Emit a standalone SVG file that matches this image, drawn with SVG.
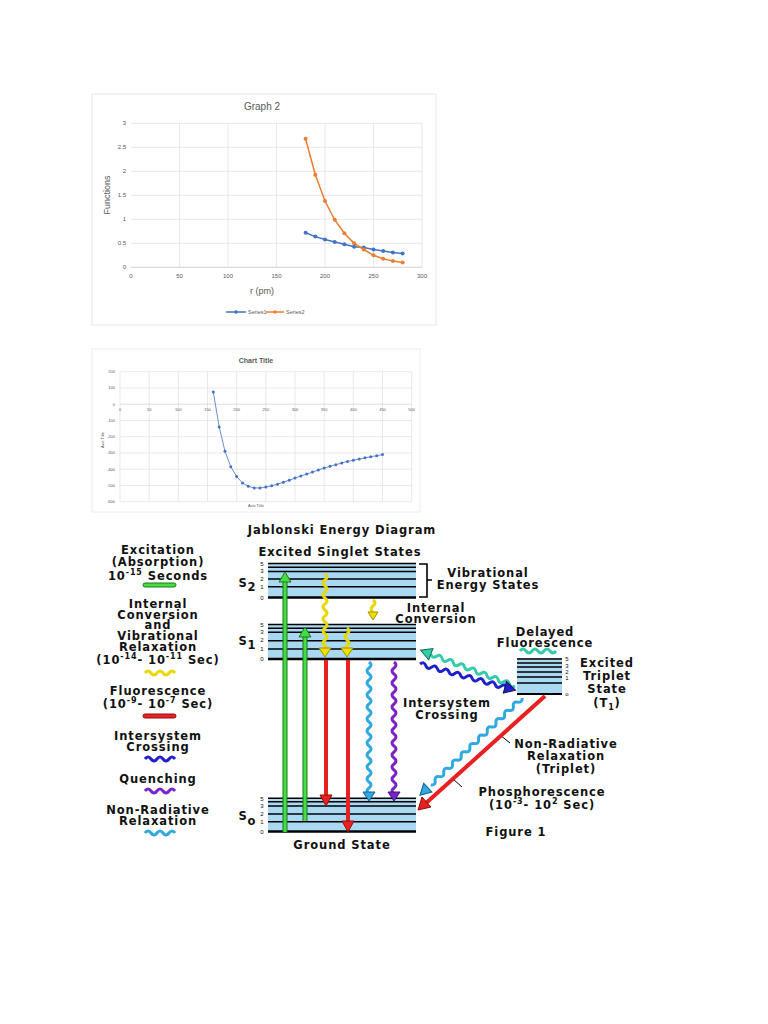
<svg xmlns="http://www.w3.org/2000/svg" width="768" height="1024" viewBox="0 0 768 1024">
<style>
.t{font-family:"Liberation Sans",Arial,sans-serif;fill:#595959}
.g{stroke:#e3e3e3;stroke-width:0.8;fill:none}
.b{font-family:"DejaVu Sans","Liberation Sans",sans-serif;font-weight:bold;fill:#111;text-anchor:middle;font-size:11.5px;letter-spacing:0.9px}
.lv{font-family:"Liberation Sans",Arial,sans-serif;font-size:6px;fill:#111;text-anchor:middle}
.w{fill:none;stroke-width:3}
.box{fill:#a9d9f2}
.ln{stroke:#000;stroke-width:1.6}
</style>
<rect width="768" height="1024" fill="#fff"/>
<g id="graph1">
<rect x="92" y="94" width="344" height="231" fill="#fff" stroke="#e8e8e8"/>
<text class="t" x="262" y="110" font-size="10" text-anchor="middle">Graph 2</text>
<g class="g">
<path d="M131 123.3H422M131 147.3H422M131 171.3H422M131 195.3H422M131 219.3H422M131 243.3H422"/>
<path d="M179.5 123V267M228 123V267M276.5 123V267M325 123V267M373.5 123V267M422 123V267"/>
</g>
<path d="M131 267.3H422" stroke="#d0d0d0"/>
<g class="t" font-size="6" text-anchor="end">
<text x="126" y="125">3</text><text x="126" y="149">2.5</text><text x="126" y="173">2</text><text x="126" y="197">1.5</text><text x="126" y="221">1</text><text x="126" y="245">0.5</text><text x="126" y="269">0</text>
</g>
<g class="t" font-size="6" text-anchor="middle">
<text x="131" y="278">0</text><text x="179.5" y="278">50</text><text x="228" y="278">100</text><text x="276.5" y="278">150</text><text x="325" y="278">200</text><text x="373.5" y="278">250</text><text x="422" y="278">300</text>
</g>
<text class="t" x="262" y="294" font-size="9" text-anchor="middle">r (pm)</text>
<text class="t" x="110" y="195" font-size="9" text-anchor="middle" transform="rotate(-90 110 195)">Functions</text>
<polyline fill="none" stroke="#4472c4" stroke-width="1.5" points="305.6,232.7 315.3,236.6 325,239.5 334.7,241.9 344.4,244.3 354.1,246.7 363.8,247.6 373.5,249.5 383.2,251 392.9,252.4 402.6,253.4"/>
<g fill="#4472c4"><circle cx="305.6" cy="232.7" r="2"/><circle cx="315.3" cy="236.6" r="2"/><circle cx="325" cy="239.5" r="2"/><circle cx="334.7" cy="241.9" r="2"/><circle cx="344.4" cy="244.3" r="2"/><circle cx="354.1" cy="246.7" r="2"/><circle cx="363.8" cy="247.6" r="2"/><circle cx="373.5" cy="249.5" r="2"/><circle cx="383.2" cy="251" r="2"/><circle cx="392.9" cy="252.4" r="2"/><circle cx="402.6" cy="253.4" r="2"/></g>
<polyline fill="none" stroke="#ed7d31" stroke-width="1.5" points="305.6,138.7 315.3,174.7 325,201 334.7,219.8 344.4,233.2 354.1,243.3 363.8,249.5 373.5,255.3 383.2,258.7 392.9,261.1 402.6,262.5"/>
<g fill="#ed7d31"><circle cx="305.6" cy="138.7" r="2"/><circle cx="315.3" cy="174.7" r="2"/><circle cx="325" cy="201" r="2"/><circle cx="334.7" cy="219.8" r="2"/><circle cx="344.4" cy="233.2" r="2"/><circle cx="354.1" cy="243.3" r="2"/><circle cx="363.8" cy="249.5" r="2"/><circle cx="373.5" cy="255.3" r="2"/><circle cx="383.2" cy="258.7" r="2"/><circle cx="392.9" cy="261.1" r="2"/><circle cx="402.6" cy="262.5" r="2"/></g>
<path d="M226 312H246" stroke="#4472c4" stroke-width="1.5"/><circle cx="236" cy="312" r="1.8" fill="#4472c4"/>
<text class="t" x="248" y="314" font-size="5.5">Series1</text>
<path d="M266 312H284" stroke="#ed7d31" stroke-width="1.5"/><circle cx="275" cy="312" r="1.8" fill="#ed7d31"/>
<text class="t" x="286" y="314" font-size="5.5">Series2</text>
</g>
<g id="graph2">
<rect x="92" y="349" width="328" height="163" fill="#fff" stroke="#eeeeee"/>
<text class="t" x="256" y="363" font-size="7" font-weight="bold" text-anchor="middle" fill="#404040">Chart Title</text>
<g class="g" stroke="#ececec">
<path d="M120 371.7H411.7M120 387.9H411.7M120 420.5H411.7M120 436.7H411.7M120 453H411.7M120 469.2H411.7M120 485.5H411.7M120 501.7H411.7"/>
<path d="M149.2 371.7V501.7M178.3 371.7V501.7M207.5 371.7V501.7M236.7 371.7V501.7M265.8 371.7V501.7M295 371.7V501.7M324.2 371.7V501.7M353.3 371.7V501.7M382.5 371.7V501.7M411.7 371.7V501.7M120 371.7V501.7"/>
</g>
<path d="M120 404.2H411.7" stroke="#d0d0d0" stroke-width="0.7"/>
<g class="t" font-size="4" text-anchor="end">
<text x="115" y="373">200</text><text x="115" y="389">100</text><text x="115" y="405.5">0</text><text x="115" y="422">-100</text><text x="115" y="438">-200</text><text x="115" y="454">-300</text><text x="115" y="470.5">-400</text><text x="115" y="487">-500</text><text x="115" y="503">-600</text>
</g>
<g class="t" font-size="4" text-anchor="middle">
<text x="120" y="411">0</text><text x="149.2" y="411">50</text><text x="178.3" y="411">100</text><text x="207.5" y="411">150</text><text x="236.7" y="411">200</text><text x="265.8" y="411">250</text><text x="295" y="411">300</text><text x="324.2" y="411">350</text><text x="353.3" y="411">400</text><text x="382.5" y="411">450</text><text x="411.7" y="411">500</text>
</g>
<text class="t" x="256" y="507" font-size="4" text-anchor="middle" fill="#333">Axis Title</text>
<text class="t" x="104" y="440" font-size="4" text-anchor="middle" fill="#333" transform="rotate(-90 104 440)">Axis Title</text>
<polyline fill="none" stroke="#4472c4" stroke-width="0.8" points="213.3,392 219.2,427 225,451.3 230.8,466.8 236.7,476.5 242.5,483 248.3,486.3 254.2,487.9 260,487.9 265.8,487.1 271.7,485.8 277.5,484.2 283.3,482.2 289.2,480.3 295,478.1 300.8,476 306.7,474.1 312.5,472.1 318.3,470 324.2,468.1 330,466.3 335.8,464.7 341.7,463 347.5,461.4 353.3,460.3 359.2,459.1 365,457.8 370.8,456.7 376.7,455.7 382.5,454.6"/>
<g fill="#4472c4">
<circle cx="213.3" cy="392" r="1.5"/><circle cx="219.2" cy="427" r="1.5"/><circle cx="225" cy="451.3" r="1.5"/><circle cx="230.8" cy="466.8" r="1.5"/><circle cx="236.7" cy="476.5" r="1.5"/><circle cx="242.5" cy="483" r="1.5"/><circle cx="248.3" cy="486.3" r="1.5"/><circle cx="254.2" cy="487.9" r="1.5"/><circle cx="260" cy="487.9" r="1.5"/><circle cx="265.8" cy="487.1" r="1.5"/><circle cx="271.7" cy="485.8" r="1.5"/><circle cx="277.5" cy="484.2" r="1.5"/><circle cx="283.3" cy="482.2" r="1.5"/><circle cx="289.2" cy="480.3" r="1.5"/><circle cx="295" cy="478.1" r="1.5"/><circle cx="300.8" cy="476" r="1.5"/><circle cx="306.7" cy="474.1" r="1.5"/><circle cx="312.5" cy="472.1" r="1.5"/><circle cx="318.3" cy="470" r="1.5"/><circle cx="324.2" cy="468.1" r="1.5"/><circle cx="330" cy="466.3" r="1.5"/><circle cx="335.8" cy="464.7" r="1.5"/><circle cx="341.7" cy="463" r="1.5"/><circle cx="347.5" cy="461.4" r="1.5"/><circle cx="353.3" cy="460.3" r="1.5"/><circle cx="359.2" cy="459.1" r="1.5"/><circle cx="365" cy="457.8" r="1.5"/><circle cx="370.8" cy="456.7" r="1.5"/><circle cx="376.7" cy="455.7" r="1.5"/><circle cx="382.5" cy="454.6" r="1.5"/>
</g>
</g>
<g id="jablonski">
<text class="b" x="342" y="534" font-size="15.5" letter-spacing="0.8">Jablonski Energy Diagram</text>
<text class="b" x="340" y="556" font-size="12">Excited Singlet States</text>
<g id="S2">
<rect class="box" x="268" y="563" width="148" height="35"/>
<path class="ln" d="M268 563.5H416M268 567.3H416M268 571.5H416M268 579H416M268 586.7H416"/>
<path d="M268 597.5H416" stroke="#000" stroke-width="2.4"/>
<g class="lv"><text x="262" y="566">5</text><text x="262" y="573">3</text><text x="262" y="581">2</text><text x="262" y="589">1</text><text x="262" y="600">0</text></g>
<text class="b" x="243" y="587" font-size="14" letter-spacing="0">S</text><text class="b" x="252" y="591" font-size="8" letter-spacing="0">2</text>
</g>
<g id="S1">
<rect class="box" x="268" y="624" width="148" height="35"/>
<path class="ln" d="M268 624.5H416M268 628.3H416M268 632.3H416M268 640.7H416M268 649H416"/>
<path d="M268 659H416" stroke="#000" stroke-width="2.4"/>
<g class="lv"><text x="262" y="627">5</text><text x="262" y="634">3</text><text x="262" y="642">2</text><text x="262" y="651">1</text><text x="262" y="661">0</text></g>
<text class="b" x="243" y="645" font-size="14" letter-spacing="0">S</text><text class="b" x="252" y="649" font-size="8" letter-spacing="0">1</text>
</g>
<g id="S0">
<rect class="box" x="268" y="798" width="148" height="34"/>
<path class="ln" d="M268 798.3H416M268 801.7H416M268 806H416M268 814H416M268 821.7H416"/>
<path d="M268 831.5H416" stroke="#000" stroke-width="2.4"/>
<g class="lv"><text x="262" y="801">5</text><text x="262" y="808">3</text><text x="262" y="816">2</text><text x="262" y="824">1</text><text x="262" y="834">0</text></g>
<text class="b" x="243" y="820" font-size="14" letter-spacing="0">S</text><text class="b" x="252" y="825" font-size="8" letter-spacing="0">o</text>
</g>
<text class="b" x="342" y="849" font-size="12.5">Ground State</text>
<g id="T1">
<rect class="box" x="517" y="658" width="45" height="37"/>
<path class="ln" d="M517 659H562M517 663H562M517 667H562M517 672H562M517 677H562M517 683H562"/>
<path d="M517 694H562" stroke="#000" stroke-width="2.2"/>
<g class="lv" font-size="5"><text x="567" y="661">5</text><text x="567" y="668">3</text><text x="567" y="674">2</text><text x="567" y="680">1</text><text x="567" y="696">o</text></g>
<text class="b" x="607" y="667">Excited</text><text class="b" x="607" y="680">Triplet</text><text class="b" x="607" y="693">State</text><text class="b" x="607" y="707">(T<tspan font-size="8" dy="3">1</tspan><tspan dy="-3">)</tspan></text>
</g>
<g id="labels">
<path d="M419 564H427V597H419M427 580H432" fill="none" stroke="#000" stroke-width="1.6"/>
<text class="b" x="488" y="577">Vibrational</text><text class="b" x="488" y="589">Energy States</text>
<text class="b" x="436" y="612">Internal</text><text class="b" x="436" y="623">Conversion</text>
<text class="b" x="545" y="636">Delayed</text><text class="b" x="545" y="647">Fluorescence</text>
<path class="w" stroke="#33ccaa" d="M520 651q3 -4 6 0t6 0t6 0t6 0t6 0t6 0"/>
<text class="b" x="447" y="707">Intersystem</text><text class="b" x="447" y="719">Crossing</text>
<text class="b" x="566" y="748">Non-Radiative</text><text class="b" x="566" y="760">Relaxation</text><text class="b" x="566" y="773">(Triplet)</text>
<path d="M500 735L510 743M453 779L462 787" stroke="#000" stroke-width="1"/>
<text class="b" x="542" y="796">Phosphorescence</text>
<text class="b" x="542" y="809">(10<tspan font-size="8" dy="-5">-3</tspan><tspan dy="5">- 10</tspan><tspan font-size="8" dy="-5">2</tspan><tspan dy="5"> Sec)</tspan></text>
<text class="b" x="516" y="836" font-size="13">Figure 1</text>
</g>
<g id="connectors">
<path d="M285 832V580" stroke="#1a7a1a" stroke-width="5"/><path d="M285 832V580" stroke="#44dd44" stroke-width="3"/>
<polygon points="279,582 285,572 291,582" fill="#44dd44" stroke="#1a7a1a"/>
<path d="M305 821V635" stroke="#1a7a1a" stroke-width="5"/><path d="M305 821V635" stroke="#44dd44" stroke-width="3"/>
<polygon points="299,637 305,627 311,637" fill="#44dd44" stroke="#1a7a1a"/>
<path class="w" stroke="#e8d800" d="M325 574q4 3 0 6t0 6t0 6t0 6t0 6t0 6t0 6t0 6t0 6t0 6t0 6t0 6t0 6"/>
<polygon points="319,648 331,648 325,657" fill="#f0e000" stroke="#a09000"/>
<path class="w" stroke="#e8d800" d="M347 628q4 3 0 6t0 6t0 6t0 6"/>
<polygon points="341,648 353,648 347,657" fill="#f0e000" stroke="#a09000"/>
<path class="w" stroke="#e8d800" d="M373 600q4 3 0 6t0 6"/>
<polygon points="368,612 378,612 373,620" fill="#f0e000" stroke="#a09000"/>
<path d="M326 660V796" stroke="#e82020" stroke-width="4"/><polygon points="320,795 332,795 326,806" fill="#e82020" stroke="#901010"/>
<path d="M348 660V822" stroke="#e82020" stroke-width="4"/><polygon points="342,821 354,821 348,832" fill="#e82020" stroke="#901010"/>
<path class="w" stroke="#30a8e0" d="M369 662q4 3 0 6t0 6t0 6t0 6t0 6t0 6t0 6t0 6t0 6t0 6t0 6t0 6t0 6t0 6t0 6t0 6t0 6t0 6t0 6t0 6t0 6t0 6"/>
<polygon points="363,792 375,792 369,801" fill="#30a8e0" stroke="#106090"/>
<path class="w" stroke="#7a22cc" d="M394 662q4 3 0 6t0 6t0 6t0 6t0 6t0 6t0 6t0 6t0 6t0 6t0 6t0 6t0 6t0 6t0 6t0 6t0 6t0 6t0 6t0 6t0 6t0 6"/>
<polygon points="388,792 400,792 394,801" fill="#7a22cc" stroke="#401070"/>
<g transform="translate(515 686) rotate(200.75)">
<path class="w" stroke="#33ccaa" d="M0 0q3 -4 6 0t6 0t6 0t6 0t6 0t6 0t6 0t6 0t6 0t6 0t6 0t6 0t6 0t6 0t6 0"/>
<polygon points="90,-6 90,6 101,0" fill="#33ccaa" stroke="#107050"/>
</g>
<g transform="translate(420 664) rotate(15.3)">
<path class="w" stroke="#2020cc" d="M0 0q3 -4 6 0t6 0t6 0t6 0t6 0t6 0t6 0t6 0t6 0t6 0t6 0t6 0t6 0t6 0t6 0"/>
<polygon points="88,-6 88,6 99,0" fill="#2020cc" stroke="#101060"/>
</g>
<g transform="translate(522 698) rotate(136.4)">
<path class="w" stroke="#30a8e0" d="M0 0q3 -4 6 0t6 0t6 0t6 0t6 0t6 0t6 0t6 0t6 0t6 0t6 0t6 0t6 0t6 0t6 0t6 0t6 0t6 0t6 0t6 0t6 0"/>
<polygon points="130,-6 130,6 141,0" fill="#30a8e0" stroke="#106090"/>
</g>
<path d="M545 696L425 804" stroke="#e82020" stroke-width="4"/>
<polygon points="418,810 422,797 431,807" fill="#e82020" stroke="#901010"/>
</g>
<g id="legend">
<text class="b" x="158" y="554">Excitation</text><text class="b" x="158" y="566">(Absorption)</text>
<text class="b" x="158" y="580">10<tspan font-size="8" dy="-5">-15</tspan><tspan dy="5"> Seconds</tspan></text>
<rect x="143" y="583" width="33" height="4" rx="2" fill="#44dd44" stroke="#1a7a1a"/>
<text class="b" x="158" y="608">Internal</text><text class="b" x="158" y="619">Conversion</text><text class="b" x="158" y="629">and</text><text class="b" x="158" y="640">Vibrational</text><text class="b" x="158" y="651">Relaxation</text>
<text class="b" x="158" y="664" letter-spacing="0.5">(10<tspan font-size="8" dy="-5">-14</tspan><tspan dy="5">- 10</tspan><tspan font-size="8" dy="-5">-11</tspan><tspan dy="5"> Sec)</tspan></text>
<path class="w" stroke="#e8d800" d="M145 673q3 -4 6 0t6 0t6 0t6 0t6 0"/>
<text class="b" x="158" y="695">Fluorescence</text>
<text class="b" x="158" y="708">(10<tspan font-size="8" dy="-5">-9</tspan><tspan dy="5">- 10</tspan><tspan font-size="8" dy="-5">-7</tspan><tspan dy="5"> Sec)</tspan></text>
<rect x="143" y="714" width="33" height="4" rx="2" fill="#e82020" stroke="#901010"/>
<text class="b" x="158" y="740">Intersystem</text><text class="b" x="158" y="751">Crossing</text>
<path class="w" stroke="#2020cc" d="M145 759q3 -4 6 0t6 0t6 0t6 0t6 0"/>
<text class="b" x="158" y="783">Quenching</text>
<path class="w" stroke="#7a22cc" d="M145 791q3 -4 6 0t6 0t6 0t6 0t6 0"/>
<text class="b" x="158" y="814">Non-Radiative</text><text class="b" x="158" y="825">Relaxation</text>
<path class="w" stroke="#30a8e0" d="M145 833q3 -4 6 0t6 0t6 0t6 0t6 0"/>
</g>
</g>
</svg>
